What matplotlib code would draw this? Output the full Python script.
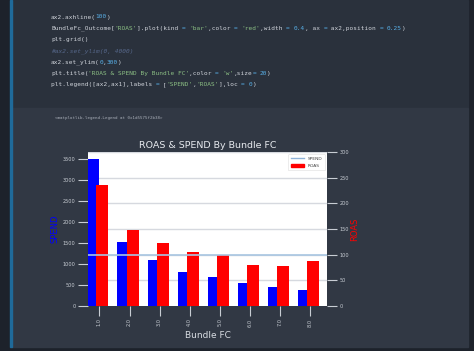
import numpy as np
import matplotlib.pyplot as plt
import matplotlib.transforms as mtransforms
from matplotlib.patches import Rectangle, Patch
from matplotlib.lines import Line2D

# ---- chart data ----
bundle_fc = ['1.0', '2.0', '3.0', '4.0', '5.0', '6.0', '7.0', '8.0']
spend = [3490, 1525, 1090, 815, 690, 540, 450, 375]
roas = [236, 149, 123, 105, 99, 79, 77, 88]

# ---- notebook code cell (tokens: text, kind) ----
code_lines = [
    [("ax2.axhline(", "t"), ("100", "n"), (")", "t")],
    [("BundleFc_Outcome[", "t"), ("'ROAS'", "s"), ("].plot(kind ", "t"), ("=", "o"), (" ", "t"),
     ("'bar'", "s"), (",color ", "t"), ("=", "o"), (" ", "t"), ("'red'", "s"), (",width ", "t"),
     ("=", "o"), (" ", "t"), ("0.4", "n"), (", ax ", "t"), ("=", "o"), (" ax2,position ", "t"),
     ("=", "o"), (" ", "t"), ("0.25", "n"), (")", "t")],
    [("plt.grid()", "t")],
    [("#ax2.set_ylim(0, 4000)", "c")],
    [("ax2.set_ylim(", "t"), ("0", "n"), (",", "t"), ("300", "n"), (")", "t")],
    [("plt.title(", "t"), ("'ROAS & SPEND By Bundle FC'", "s"), (",color ", "t"), ("=", "o"), (" ", "t"),
     ("'w'", "s"), (",size", "t"), ("=", "o"), (" ", "t"), ("20", "n"), (")", "t")],
    [("plt.legend([ax2,ax1],labels ", "t"), ("=", "o"), (" [", "t"), ("'SPEND'", "s"), (",", "t"),
     ("'ROAS'", "s"), ("],loc ", "t"), ("=", "o"), (" ", "t"), ("0", "n"), (")", "t")],
]
out_text = "<matplotlib.legend.Legend at 0x1d5575f2b38>"

tok_colors = {"t": "#d0d4db", "s": "#8cc084", "n": "#58b0e8", "o": "#58b0e8", "c": "#56678a"}

W, H = 474, 351
fig = plt.figure(figsize=(W / 100, H / 100), dpi=100)
fig.patch.set_facecolor('#1d222b')

def px(x, y, w, h, c):
    fig.patches.append(Rectangle((x / W, 1 - (y + h) / H), w / W, h / H,
                                 transform=fig.transFigure, color=c, zorder=-5))

px(12, 0, 456, 108, '#2a313c')   # code area
px(12, 108, 456, 239, '#313844')  # output area
px(10, 0, 2, 347, '#1f6a9a')      # cell marker

# code text, monospace, placed token by token
char_w = 3.73
for i, line in enumerate(code_lines):
    x = 51.0
    y = 17.0 + i * 11.3
    for txt, kind in line:
        fig.text(x / W, 1 - y / H, txt, family='DejaVu Sans Mono', fontsize=4.46,
                 color=tok_colors[kind], va='center', ha='left',
                 style='italic' if kind == 'c' else 'normal')
        x += len(txt) * char_w

fig.text(55 / W, 1 - 118 / H, out_text, family='DejaVu Sans Mono', fontsize=3.0,
         color='#aab0ba', va='center', ha='left')

# ---- chart ----
ax1 = fig.add_axes([88 / W, 1 - 306 / H, (327 - 88) / W, (306 - 152) / H])
ax1.set_facecolor('white')
x = np.arange(len(bundle_fc))
ax1.bar(x - 0.2, spend, width=0.4, color='blue', zorder=3)
ax1.set_ylim(0, 3665)
ax1.set_yticks(np.arange(0, 3501, 500))
ax1.set_xlim(-0.38, 7.56)
ax1.set_xticks(x)
ax1.set_xticklabels(bundle_fc, rotation=90)
ax1.set_ylabel('SPEND', color='blue', fontsize=6, labelpad=2)
ax1.set_xlabel('Bundle FC', color='#d8dce2', fontsize=6.5, labelpad=3)

ax2 = ax1.twinx()
ax2.set_ylim(0, 300)
roas_ticks = np.arange(0, 301, 50)
ax2.set_yticks(roas_ticks)

# grid of the right axis, drawn behind the blue bars
trans = mtransforms.blended_transform_factory(ax1.transAxes, ax2.transData)
for v in roas_ticks[1:]:
    ax1.add_line(Line2D([0, 1], [v, v], transform=trans, color='#d6d9df', lw=1, zorder=1))

ax2.axhline(100, color='#a9c6e2', lw=1.2)
ax2.bar(x + 0.1, roas, width=0.4, color='red')
ax2.set_ylabel('ROAS', color='red', fontsize=6, labelpad=1)
ax2.set_title('ROAS & SPEND By Bundle FC', color='#e6e9ee', fontsize=6.8, pad=3)

for ax in (ax1, ax2):
    ax.tick_params(colors='#c8cdd4', labelsize=3.6, length=7, width=0.8, pad=2)
    for sp in ax.spines.values():
        sp.set_visible(False)

handles = [Line2D([], [], color='#8fb3d9', lw=1), Patch(color='red')]
leg = ax2.legend(handles, ['SPEND', 'ROAS'], loc='upper right', fontsize=3.2,
                 frameon=True, handlelength=3, borderpad=0.6, labelspacing=0.6)
leg.get_frame().set_edgecolor('#dddddd')
leg.get_frame().set_linewidth(0.5)
for t in leg.get_texts():
    t.set_color('#444444')

fig.savefig('out.png', dpi=100, facecolor=fig.get_facecolor())
